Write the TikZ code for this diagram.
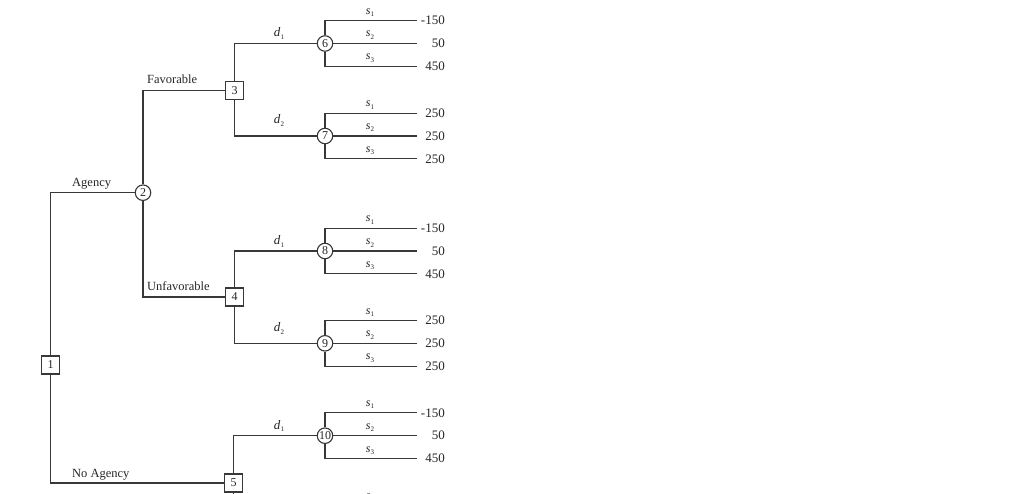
\documentclass[tikz,border=0pt]{standalone}
\usepackage{fontspec}
\setmainfont{Liberation Serif}
\newcommand\mylab[2]{\textit{#1}\kern0.2pt\raisebox{-2.5pt}{\fontsize{7}{7}\selectfont #2}}
\begin{document}
\begin{tikzpicture}[x=1pt,y=-1pt,
  ln/.style={draw=black!78, line width=1.1pt},
  dec/.style={draw=black!78, line width=1.1pt, rectangle, minimum size=18pt, inner sep=0pt, font=\fontsize{12}{12}\selectfont, text=black!85},
  chc/.style={draw=black!78, line width=1.1pt, circle, minimum size=15.5pt, inner sep=0pt, font=\fontsize{12}{12}\selectfont, text=black!85},
  brl/.style={anchor=base west, inner sep=0pt, font=\fontsize{12.5}{12.5}\selectfont, text=black!85},
  val/.style={anchor=east, inner sep=0pt, font=\fontsize{13}{13}\selectfont, text=black!85},
  slab/.style={anchor=base, inner sep=0pt, font=\fontsize{12}{12}\selectfont, text=black!85},
  dlab/.style={anchor=base, inner sep=0pt, font=\fontsize{13}{13}\selectfont, text=black!85}]
\useasboundingbox (0,0) rectangle (1024,494);
\clip (0,0) rectangle (1024,494);

% chance nodes with their outcomes
\foreach \n/\y/\a/\b/\c in {6/43.5/-150/50/450, 7/136/250/250/250, 8/251/-150/50/450, 9/343.3/250/250/250, 10/435.7/-150/50/450} {
  \node[chc] (c\n) at (325,\y) {\n};
  \coordinate (ea\n) at (417,\y-22.8);
  \coordinate (eb\n) at (417,\y);
  \coordinate (ec\n) at (417,\y+22.8);
  \draw[ln] (c\n.north) |- (ea\n);
  \draw[ln] (c\n.east) -- (eb\n);
  \draw[ln] (c\n.south) |- (ec\n);
  \node[val] (va\n) at (445,\y-22.8) {\a};
  \node[val] (vb\n) at (445,\y) {\b};
  \node[val] (vc\n) at (445,\y+22.8) {\c};
  \node[slab] (sa\n) at (370,\y-29.3) {\mylab{s}{1}};
  \node[slab] (sb\n) at (370,\y-6.5) {\mylab{s}{2}};
  \node[slab] (sc\n) at (370,\y+16.3) {\mylab{s}{3}};
}

% decision and event nodes
\node[dec] (n1) at (50.5,365) {1};
\node[chc] (n2) at (143,192.7) {2};
\node[dec] (n3) at (234.5,90.5) {3};
\node[dec] (n4) at (234.5,297) {4};
\node[dec] (n5) at (233.5,483) {5};
\coordinate (n5low) at (233.5,500);

% connectors
\draw[ln] (n1.north) |- (n2.west);
\draw[ln] (n1.south) |- (n5.west);
\draw[ln] (n2.north) |- (n3.west);
\draw[ln] (n2.south) |- (n4.west);
\draw[ln] (n3.north) |- (c6.west);
\draw[ln] (n3.south) |- (c7.west);
\draw[ln] (n4.north) |- (c8.west);
\draw[ln] (n4.south) |- (c9.west);
\draw[ln] (n5.north) |- (c10.west);
\draw[ln] (n5.south) -- (n5low);

% branch labels
\node[brl] (lAg) at (72,186.5) {Agency};
\node[brl] (lFa) at (147,83.5) {Favorable};
\node[brl] (lUn) at (147,290) {Unfavorable};
\node[brl] (lNo) at (72,477) {No Agency};

% decision labels
\node[dlab] (d6) at (279,37) {\mylab{d}{1}};
\node[dlab] (d7) at (279,124) {\mylab{d}{2}};
\node[dlab] (d8) at (279,244.5) {\mylab{d}{1}};
\node[dlab] (d9) at (279,331.5) {\mylab{d}{2}};
\node[dlab] (d10) at (279,429) {\mylab{d}{1}};

% partly visible label at the lower edge
\node[slab] (sa11) at (370,499.5) {\mylab{s}{1}};
\end{tikzpicture}
\end{document}
